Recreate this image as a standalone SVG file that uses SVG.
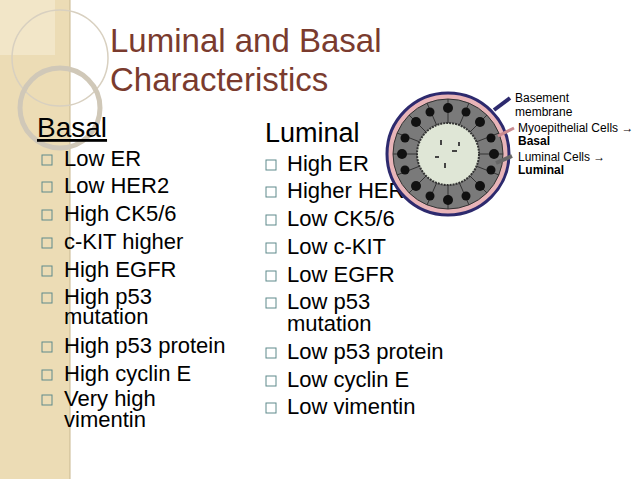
<svg xmlns="http://www.w3.org/2000/svg" width="638" height="479" viewBox="0 0 638 479">
<style>
.t{font-family:"Liberation Sans",Arial,sans-serif;fill:#000}
.it{font-size:22px}
.b{fill:none;stroke:#5f8a8b;stroke-width:1}
.lab{font-size:12px}
</style>
<rect width="638" height="479" fill="#fff"/>
<rect x="0" y="0" width="70" height="479" fill="#ecdcb5"/>
<rect x="0" y="0" width="55" height="55" fill="#f2e6c8"/>
<line x1="70" y1="0" x2="70" y2="479" stroke="#c9b890" stroke-width="1"/>
<circle cx="60" cy="58" r="48" fill="none" stroke="#d8d0c0" stroke-width="1.5"/>
<circle cx="60" cy="108" r="40" fill="none" stroke="#d0c8b8" stroke-width="5"/>
<g id="title" class="t"><text x="110" y="52" font-size="33" style="fill:#7a3b2e">Luminal and Basal</text><text x="110" y="91" font-size="33" style="fill:#7a3b2e">Characteristics</text></g>
<g id="basal" class="t">
<text x="37" y="137" font-size="28" text-decoration="underline">Basal</text>
<g class="it">
<text x="64" y="166">Low ER</text><text x="64" y="193">Low HER2</text><text x="64" y="221">High CK5/6</text><text x="64" y="249">c-KIT higher</text><text x="64" y="277">High EGFR</text><text x="64" y="304">High p53</text><text x="64" y="324">mutation</text><text x="64" y="353">High p53 protein</text><text x="64" y="381">High cyclin E</text><text x="64" y="406">Very high</text><text x="64" y="427">vimentin</text>
</g>
<rect class="b" x="42" y="155" width="10" height="10"/><rect class="b" x="42" y="182" width="10" height="10"/><rect class="b" x="42" y="210" width="10" height="10"/><rect class="b" x="42" y="238" width="10" height="10"/><rect class="b" x="42" y="266" width="10" height="10"/><rect class="b" x="42" y="293" width="10" height="10"/><rect class="b" x="42" y="342" width="10" height="10"/><rect class="b" x="42" y="370" width="10" height="10"/><rect class="b" x="42" y="395" width="10" height="10"/>
</g>
<g id="luminal" class="t">
<text x="265" y="142" font-size="27">Luminal</text>
<g class="it">
<text x="287" y="171">High ER</text><text x="287" y="198">Higher HER2</text><text x="287" y="226">Low CK5/6</text><text x="287" y="254">Low c-KIT</text><text x="287" y="282">Low EGFR</text><text x="287" y="309">Low p53</text><text x="287" y="331">mutation</text><text x="287" y="359">Low p53 protein</text><text x="287" y="387">Low cyclin E</text><text x="287" y="414">Low vimentin</text>
</g>
<rect class="b" x="266" y="160" width="10" height="10"/><rect class="b" x="266" y="187" width="10" height="10"/><rect class="b" x="266" y="215" width="10" height="10"/><rect class="b" x="266" y="243" width="10" height="10"/><rect class="b" x="266" y="271" width="10" height="10"/><rect class="b" x="266" y="298" width="10" height="10"/><rect class="b" x="266" y="348" width="10" height="10"/><rect class="b" x="266" y="376" width="10" height="10"/><rect class="b" x="266" y="403" width="10" height="10"/>
</g>
<g id="cell">
<circle cx="448" cy="154" r="61" fill="#e8b4b8" stroke="#2d2a6e" stroke-width="3"/>
<circle cx="448" cy="154" r="55" fill="#7a7a7a" stroke="#333" stroke-width="1"/>
<g stroke="#333" stroke-width="1">
<line x1="448" y1="99" x2="448" y2="124"/><line x1="448" y1="184" x2="448" y2="209"/>
<line x1="393" y1="154" x2="418" y2="154"/><line x1="478" y1="154" x2="503" y2="154"/>
<line x1="409" y1="115" x2="427" y2="133"/><line x1="469" y1="175" x2="487" y2="193"/>
<line x1="487" y1="115" x2="469" y2="133"/><line x1="427" y1="175" x2="409" y2="193"/>
<line x1="427" y1="103" x2="437" y2="126"/><line x1="469" y1="103" x2="459" y2="126"/>
<line x1="427" y1="205" x2="437" y2="182"/><line x1="469" y1="205" x2="459" y2="182"/>
<line x1="397" y1="133" x2="420" y2="142"/><line x1="499" y1="133" x2="476" y2="142"/>
<line x1="397" y1="175" x2="420" y2="166"/><line x1="499" y1="175" x2="476" y2="166"/>
</g>
<g fill="#111">
<circle cx="448" cy="108" r="5"/><circle cx="448" cy="200" r="5"/><circle cx="402" cy="154" r="5"/><circle cx="494" cy="154" r="5"/>
<circle cx="416" cy="122" r="5"/><circle cx="480" cy="122" r="5"/><circle cx="416" cy="186" r="5"/><circle cx="480" cy="186" r="5"/>
<circle cx="430" cy="112" r="4.5"/><circle cx="466" cy="112" r="4.5"/><circle cx="430" cy="196" r="4.5"/><circle cx="466" cy="196" r="4.5"/>
<circle cx="405" cy="138" r="4.5"/><circle cx="491" cy="138" r="4.5"/><circle cx="405" cy="170" r="4.5"/><circle cx="491" cy="170" r="4.5"/>
</g>
<circle cx="448" cy="154" r="31" fill="#dfe6d6" stroke="#333" stroke-width="2" stroke-dasharray="2 1"/>
<g fill="#444"><rect x="440" y="140" width="2" height="5"/><rect x="452" y="150" width="5" height="2"/><rect x="444" y="163" width="2" height="5"/><rect x="435" y="156" width="4" height="2"/><rect x="458" y="142" width="2" height="4"/></g>
</g>
<g id="connectors">
<line x1="510" y1="98" x2="494" y2="110" stroke="#2d2a6e" stroke-width="4"/>
<line x1="514" y1="128" x2="498" y2="136" stroke="#c98a90" stroke-width="3"/>
<line x1="512" y1="156" x2="496" y2="163" stroke="#666" stroke-width="4"/>
</g>
<g id="labels" class="t lab">
<text x="515" y="102">Basement</text><text x="515" y="116">membrane</text>
<text x="518" y="132">Myoepithelial Cells →</text><text x="518" y="145" font-weight="bold">Basal</text>
<text x="518" y="161">Luminal Cells →</text><text x="518" y="174" font-weight="bold">Luminal</text>
</g>
</svg>
